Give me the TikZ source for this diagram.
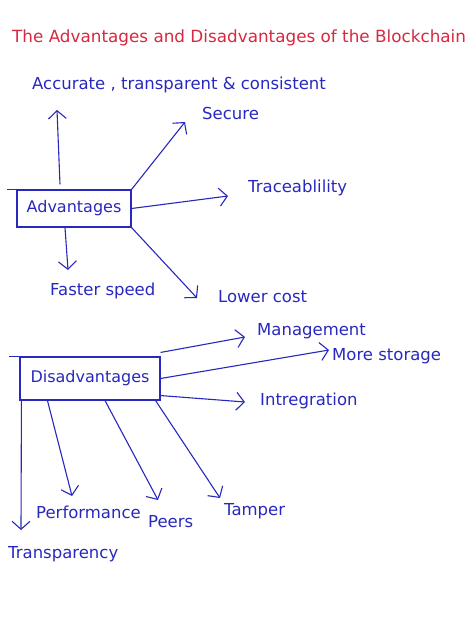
\documentclass[tikz,border=0pt]{standalone}
\usepackage{fontspec}
\setmainfont{DejaVu Sans}
\usetikzlibrary{arrows.meta, positioning}
\definecolor{ink}{RGB}{40,40,190}
\definecolor{titlered}{RGB}{214,40,64}

\begin{document}
\begin{tikzpicture}[x=1pt, y=-1pt,
    box/.style={rectangle, draw=ink, line width=1.1pt, text=ink,
      font=\fontsize{16}{18}\selectfont, inner sep=2pt},
    lbl/.style={anchor=base west, text=ink, inner sep=0pt,
      font=\fontsize{16.5}{18}\selectfont},
    arr/.style={draw=ink, line width=1.1pt,
      -{Straight Barb[length=8pt, width=18pt]}}
  ]
    \useasboundingbox (0,0) rectangle (474,632);

    % title
    \node[lbl, text=titlered, font=\fontsize{16.8}{19}\selectfont] (title) at (12,42)
      {The Advantages and Disadvantages of the Blockchain};

    % advantages
    \node[box, minimum width=114pt, minimum height=37pt] (adv) at (74,208.5) {Advantages};
    \draw[draw=ink, line width=1.1pt] (adv.north west) -- ++(-9,0);

    \node[lbl] (acc) at (32,89) {Accurate , transparent \& consistent};
    \node[lbl] (secure) at (202,119) {Secure};
    \node[lbl] (trace) at (248,192) {Traceablility};
    \node[lbl] (fast) at (50,295) {Faster speed};
    \node[lbl] (lower) at (218,302) {Lower cost};

    \coordinate (tAcc) at (57,110);
    \coordinate (tSec) at (185,122);
    \coordinate (tTrace) at (228,196);
    \coordinate (tFast) at (68,270);
    \coordinate (tLower) at (197,298);

    \draw[arr] ([xshift=-14pt,yshift=5pt]adv.north) -- (tAcc);
    \draw[arr] (adv.north east) -- (tSec);
    \draw[arr] (adv.east) -- (tTrace);
    \draw[arr] ([xshift=-9pt]adv.south) -- (tFast);
    \draw[arr] (adv.south east) -- (tLower);

    % disadvantages
    \node[box, minimum width=140pt, minimum height=43pt] (dis) at (90,378.5) {Disadvantages};
    \draw[draw=ink, line width=1.1pt] (dis.north west) -- ++(-10,0);

    \node[lbl] (mgmt) at (257,335) {Management};
    \node[lbl] (storage) at (332,360) {More storage};
    \node[lbl] (integ) at (260,405) {Intregration};
    \node[lbl] (perf) at (36,518) {Performance};
    \node[lbl] (peers) at (148,527) {Peers};
    \node[lbl] (tamper) at (224,515) {Tamper};
    \node[lbl] (transp) at (8,558) {Transparency};

    \coordinate (tMgmt) at (245,337);
    \coordinate (tStorage) at (329,350);
    \coordinate (tInteg) at (245,402);
    \coordinate (tTransp) at (21,530);
    \coordinate (tPerf) at (72,496);
    \coordinate (tPeers) at (158,500);
    \coordinate (tTamper) at (220,498);

    \draw[arr] ([yshift=4pt]dis.north east) -- (tMgmt);
    \draw[arr] (dis.east) -- (tStorage);
    \draw[arr] ([yshift=5pt]dis.south east) -- (tInteg);
    \draw[arr] ([xshift=2pt]dis.south west) -- (tTransp);
    \draw[arr] ([xshift=28pt]dis.south west) -- (tPerf);
    \draw[arr] ([xshift=15pt]dis.south) -- (tPeers);
    \draw[arr] ([xshift=-5pt]dis.south east) -- (tTamper);
  \end{tikzpicture}
\end{document}
